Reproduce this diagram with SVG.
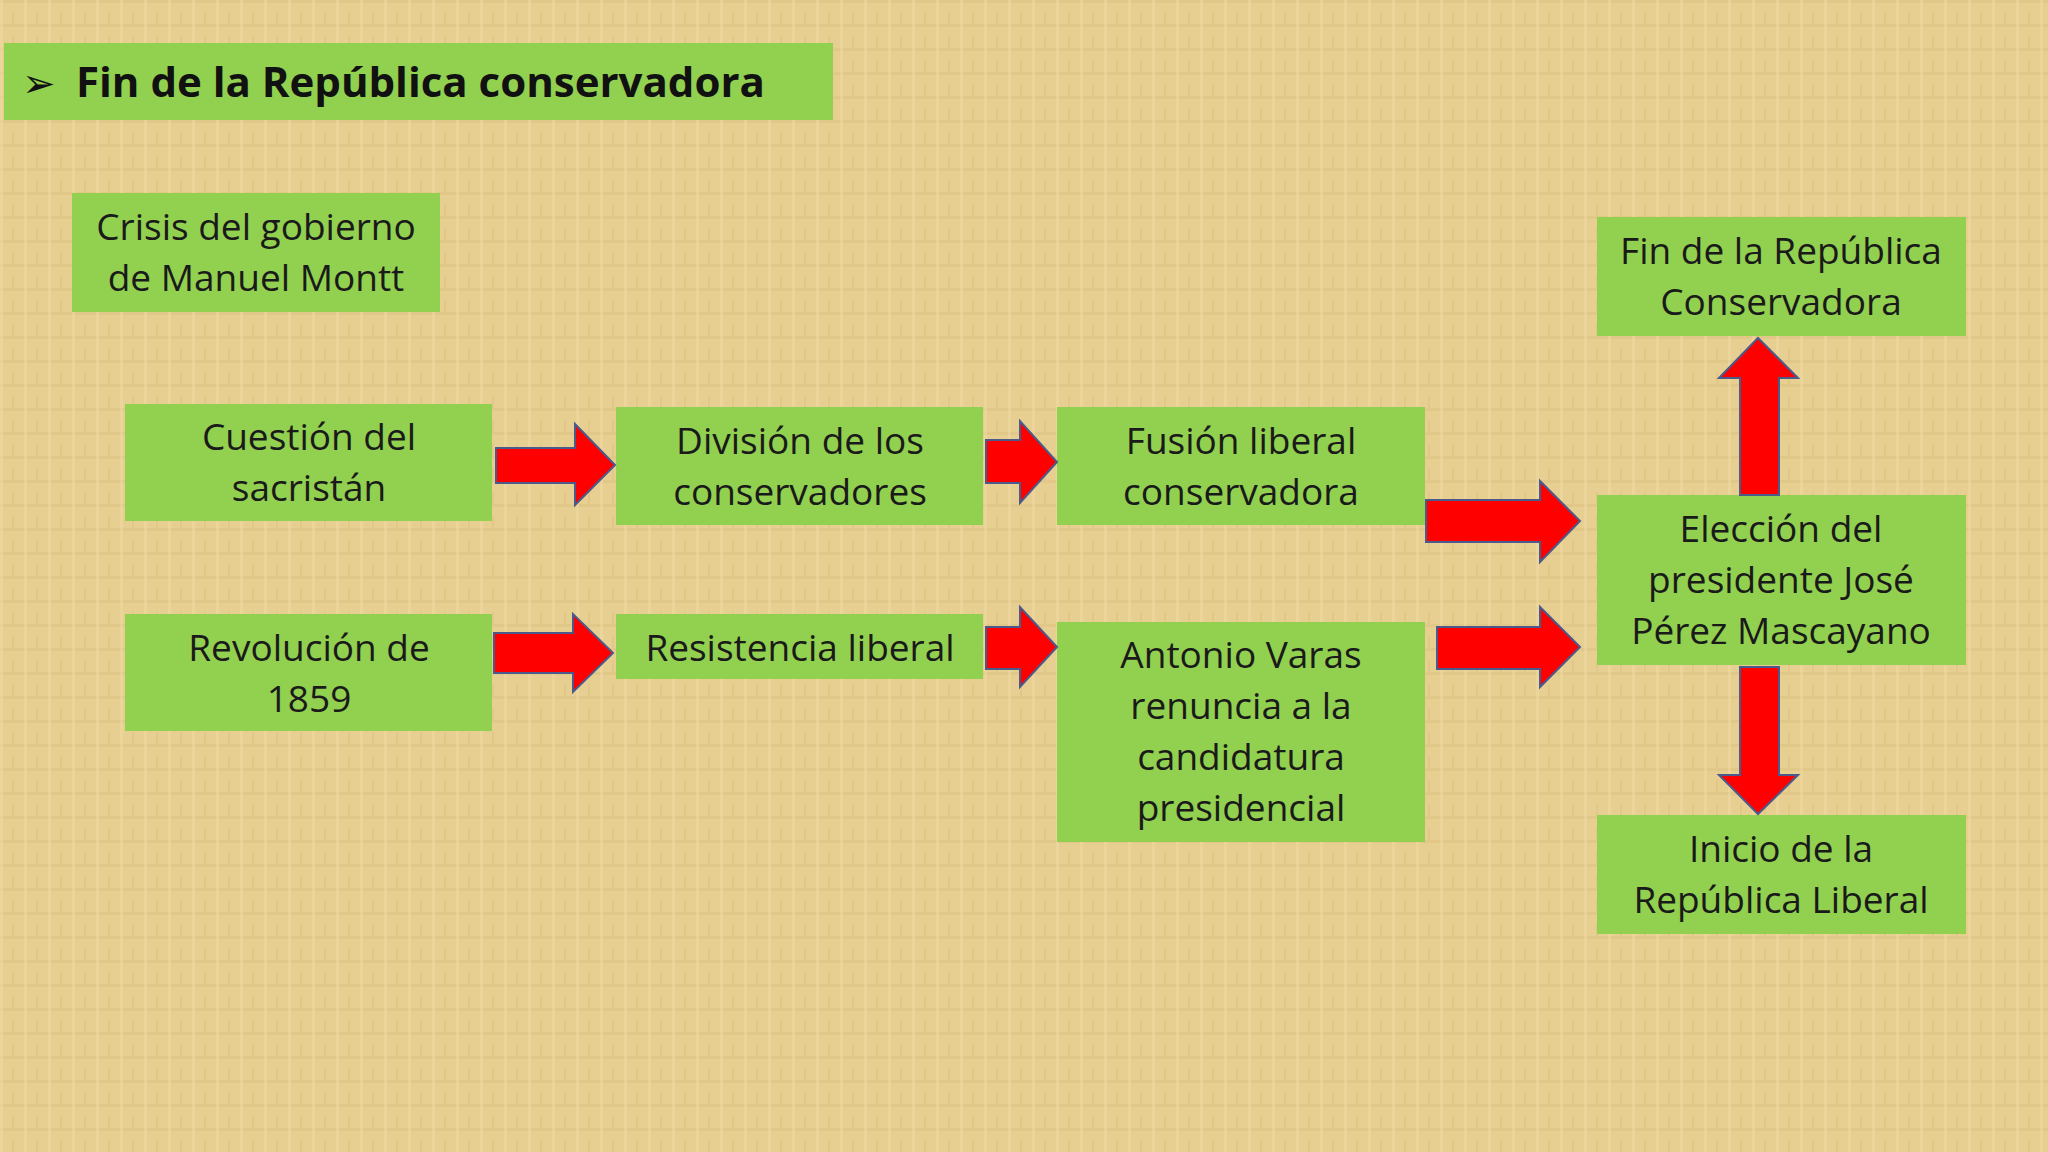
<svg xmlns="http://www.w3.org/2000/svg" width="2048" height="1152" viewBox="0 0 2048 1152">
<defs>
<pattern id="tex" width="24" height="24" patternUnits="userSpaceOnUse">
<rect width="24" height="24" fill="#e7ce91"/>
<rect x="0" y="0" width="24" height="3" fill="#dcbf80" opacity="0.5"/>
<rect x="0" y="0" width="3" height="24" fill="#f0dba6" opacity="0.5"/>
<rect x="12" y="12" width="2" height="12" fill="#d8bb7c" opacity="0.35"/>
</pattern>
</defs>
<style>
.box{fill:#92d050}
.t{font-family:"Open Sans","Liberation Sans",sans-serif;font-size:37px;fill:#1a1a1a;text-anchor:middle}
.ar{fill:#ff0000;stroke:#4a5a8a;stroke-width:2}
</style>
<rect width="2048" height="1152" fill="url(#tex)"/>
<g id="title">
<rect x="4" y="43" width="829" height="77" class="box"/>
<text x="22" y="97" font-family="DejaVu Sans,sans-serif" font-size="40" fill="#111">➢</text>
<text x="76" y="97" font-family="Open Sans,Liberation Sans,sans-serif" font-weight="bold" font-size="42" fill="#111">Fin de la República conservadora</text>
</g>
<g id="crisis"><rect x="72" y="193" width="368" height="119" class="box"/><text class="t" x="256" y="240">Crisis del gobierno</text><text class="t" x="256" y="291">de Manuel Montt</text></g>
<g id="cuestion"><rect x="125" y="404" width="367" height="117" class="box"/><text class="t" x="309" y="450">Cuestión del</text><text class="t" x="309" y="501">sacristán</text></g>
<g id="division"><rect x="616" y="407" width="367" height="118" class="box"/><text class="t" x="800" y="454">División de los</text><text class="t" x="800" y="505">conservadores</text></g>
<g id="fusion"><rect x="1057" y="407" width="368" height="118" class="box"/><text class="t" x="1241" y="454">Fusión liberal</text><text class="t" x="1241" y="505">conservadora</text></g>
<g id="revolucion"><rect x="125" y="614" width="367" height="117" class="box"/><text class="t" x="309" y="661">Revolución de</text><text class="t" x="309" y="712">1859</text></g>
<g id="resistencia"><rect x="616" y="614" width="367" height="65" class="box"/><text class="t" x="800" y="661">Resistencia liberal</text></g>
<g id="antonio"><rect x="1057" y="622" width="368" height="220" class="box"/><text class="t" x="1241" y="668">Antonio Varas</text><text class="t" x="1241" y="719">renuncia a la</text><text class="t" x="1241" y="770">candidatura</text><text class="t" x="1241" y="821">presidencial</text></g>
<g id="fin"><rect x="1597" y="217" width="369" height="119" class="box"/><text class="t" x="1781" y="264">Fin de la República</text><text class="t" x="1781" y="315">Conservadora</text></g>
<g id="eleccion"><rect x="1597" y="495" width="369" height="170" class="box"/><text class="t" x="1781" y="542">Elección del</text><text class="t" x="1781" y="593">presidente José</text><text class="t" x="1781" y="644">Pérez Mascayano</text></g>
<g id="inicio"><rect x="1597" y="815" width="369" height="119" class="box"/><text class="t" x="1781" y="862">Inicio de la</text><text class="t" x="1781" y="913">República Liberal</text></g>
<g id="connectors">
<polygon class="ar" points="496,448 575,448 575,424 615,465 575,505 575,483 496,483"/>
<polygon class="ar" points="986,440 1020,440 1020,421 1057,462 1020,503 1020,483 986,483"/>
<polygon class="ar" points="1426,500 1540,500 1540,481 1580,521 1540,562 1540,542 1426,542"/>
<polygon class="ar" points="494,633 573,633 573,614 613,653 573,692 573,673 494,673"/>
<polygon class="ar" points="986,627 1020,627 1020,607 1057,647 1020,687 1020,669 986,669"/>
<polygon class="ar" points="1437,627 1540,627 1540,607 1580,647 1540,687 1540,669 1437,669"/>
<polygon class="ar" points="1740,495 1740,378 1719,378 1758,338 1798,378 1779,378 1779,495"/>
<polygon class="ar" points="1740,667 1740,775 1719,775 1758,814 1798,775 1779,775 1779,667"/>
</g>
</svg>
